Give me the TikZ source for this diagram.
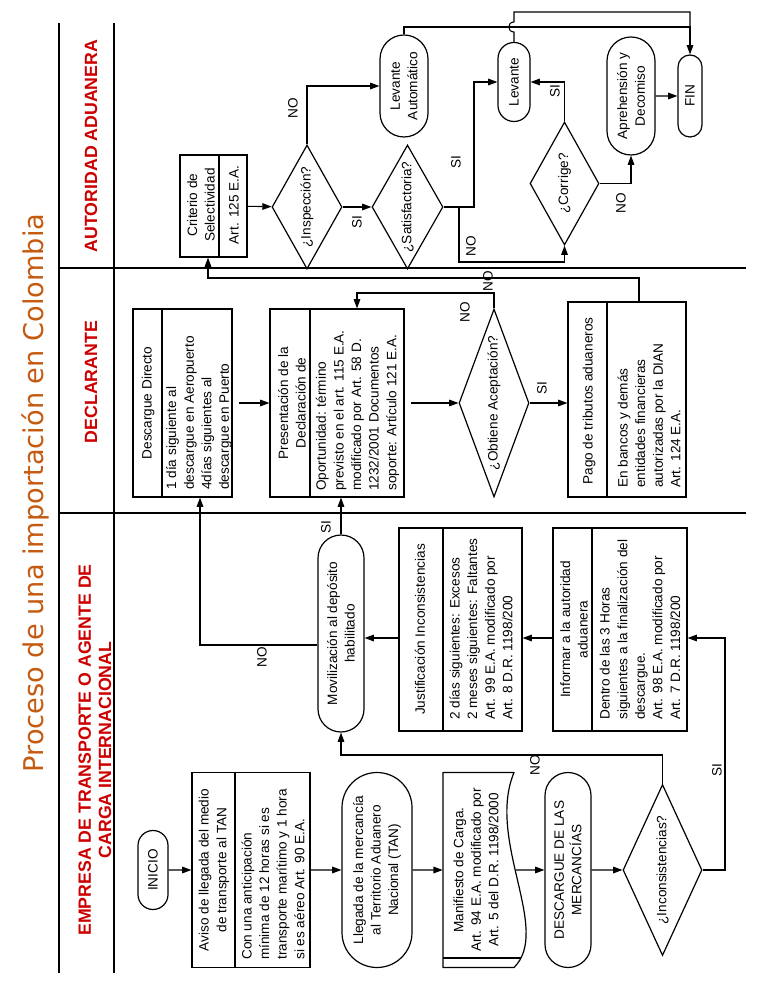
\documentclass[tikz,border=0pt]{standalone}
\usepackage{fontspec}
\setmainfont{Liberation Sans}
\newfontfamily\ttlfont{DejaVu Sans}
\usetikzlibrary{shapes.geometric,shapes.misc,arrows.meta}
\definecolor{ttlcol}{RGB}{197,90,17}
\definecolor{lanered}{RGB}{204,0,0}
\newcommand\dgfont{\fontsize{10.2}{13.2}\selectfont}
\tikzset{
  rot/.style={rotate=90},
  dims/.style 2 args={minimum height={(#1)*0.75pt}, minimum width={(#2)*0.75pt}},
  shp/.style={draw, line width=0.9pt},
  boxshape/.style={shp, rectangle, inner sep=0pt, rot},
  term/.style={shp, rounded rectangle, inner sep=0pt, align=center, font=\dgfont, rot},
  dec/.style={shp, diamond, inner sep=0pt, align=center, font=\dgfont, rot},
  hdr/.style={align=center, font=\dgfont, inner sep=0pt, rot},
  bodytxt/.style={align=left, font=\dgfont, inner sep=0pt, anchor=west, rot},
  lbl/.style={font=\dgfont, inner sep=0pt, rot},
  arr/.style={line width=0.8pt, -{Triangle[length=7pt,width=5pt]}},
  conn/.style={line width=0.8pt},
  lanehead/.style={font=\bfseries\fontsize{13.3}{15.2}\selectfont, text=lanered, align=center, inner sep=0pt, rot},
}
\begin{document}
\begin{tikzpicture}[x=0.75pt, y=-0.75pt]
\useasboundingbox (0,0) rectangle (768,994);

% title and lanes
\node[rot, font=\ttlfont\fontsize{20.4}{24}\selectfont, text=ttlcol, inner sep=0pt] (title) at (35,493) {Proceso de una importación en Colombia};
\draw[line width=1.1pt] (59,23) -- (59,973);
\draw[line width=1.1pt] (114,23) -- (114,973);
\draw[line width=2.2pt] (59,268) -- (746,268);
\draw[line width=2.2pt] (59,513) -- (746,513);
\node[lanehead] (lane1) at (91,146) {AUTORIDAD ADUANERA};
\node[lanehead] (lane2) at (91,382) {DECLARANTE};
\node[lanehead] (lane3) at (95,750) {EMPRESA DE TRANSPORTE O AGENTE DE\\CARGA INTERNACIONAL};

% ---------- EMPRESA lane ----------
\node[term, dims={30}{79}] (inicio) at (153,870) {INICIO};
\node[boxshape, dims={118}{195}] (aviso) at (251,870) {};
\draw[shp] (235,772.5) -- (235,967.5);
\node[hdr] (avisoh) at (214,870) {Aviso de llegada del medio\\de transporte al TAN};
\node[bodytxt] (avisob) at (273,960) {Con una anticipación\\mínima de 12 horas si es\\transporte marítimo y 1 hora\\si es aéreo Art. 90 E.A.};
\node[term, dims={70}{195}] (llegada) at (377,870) {Llegada de la mercancía\\al Territorio Aduanero\\Nacional (TAN)};
\node[dims={71}{195}, inner sep=0pt, rot] (manif) at (478.5,870) {};
\draw[shp, line join=round] (514,772.5) -- (443,772.5) -- (443,967.5) -- (514,967.5) .. controls (552,930) and (486,840) .. (514,772.5) -- cycle;
\draw[shp] (443,958) -- (521,958);
\node[hdr] (maniftxt) at (476,870) {Manifiesto de Carga.\\Art. 94 E.A. modificado por\\Art. 5 del D.R. 1198/2000};
\coordinate (manifout) at (516,870);
\node[term, dims={46}{195}] (descm) at (568,870) {DESCARGUE DE LAS\\MERCANCÍAS};
\node[dec, dims={79}{171}, shape aspect=2.16] (incons) at (662.5,870) {¿Inconsistencias?};

\node[boxshape, dims={134}{203}] (informar) at (620,629.5) {};
\draw[shp] (592,528) -- (592,731);
\node[hdr] (informarh) at (574,629.5) {Informar a la autoridad\\aduanera};
\node[bodytxt] (informarb) at (640,720) {Dentro de las 3 Horas\\siguientes a la finalización del\\descargue.\\Art. 98 E.A. modificado por\\Art. 7 D.R. 1198/200};

\node[boxshape, dims={123}{203}] (justif) at (460.5,629.5) {};
\draw[shp] (443,528) -- (443,731);
\node[hdr] (justifh) at (420,629.5) {Justificación Inconsistencias};
\node[bodytxt] (justifb) at (481,720) {2 días siguientes: Excesos\\2 meses siguientes: Faltantes\\Art. 99 E.A. modificado por\\Art. 8 D.R. 1198/200};

\node[term, dims={46}{197}] (moviliz) at (341,633.5) {Movilización al depósito\\habilitado};

% ---------- DECLARANTE lane ----------
\node[boxshape, dims={99}{188}] (desc) at (182.5,403) {};
\draw[shp] (162,309) -- (162,497);
\node[hdr] (desch) at (148,403) {Descargue Directo};
\node[bodytxt] (descb) at (199,490) {1 día siguiente al\\descargue en Aeropuerto\\4días siguientes al\\descargue en Puerto};

\node[boxshape, dims={134}{188}] (present) at (337,403) {};
\draw[shp] (310,309) -- (310,497);
\node[hdr] (presenth) at (292,403) {Presentación de la\\Declaración de};
\node[bodytxt] (presentb) at (357.5,491) {Oportunidad: término\\previsto en el art. 115 E.A.\\modificado por Art. 58 D.\\1232/2001 Documentos\\soporte: Artículo 121 E.A.};

\node[dec, dims={70}{188}, shape aspect=2.69] (obtiene) at (494,403) {¿Obtiene Aceptación?};

\node[boxshape, dims={118}{195}] (pago) at (627,399.5) {};
\draw[shp] (607,302) -- (607,497);
\node[hdr] (pagoh) at (589,401) {Pago de tributos aduaneros};
\node[bodytxt] (pagob) at (649,488) {En bancos y demás\\entidades financieras\\autorizadas por la DIAN\\Art. 124 E.A.};

% ---------- AUTORIDAD lane ----------
\node[boxshape, dims={67}{102}] (crit) at (213.5,206) {};
\draw[shp] (219,155) -- (219,257);
\node[hdr] (crith) at (201,205) {Criterio de\\Selectividad};
\node[hdr] (critb) at (234,205) {Art. 125 E.A.};
\node[dec, dims={70}{124}, shape aspect=1.77] (insp) at (307,207) {¿Inspección?};
\node[dec, dims={71}{124}, shape aspect=1.75] (satis) at (407.5,207) {¿Satisfactoria?};
\node[term, dims={48}{102}] (levauto) at (404,86) {Levante\\Automático};
\node[term, dims={32}{79}] (levante) at (514,82) {Levante};
\node[dec, dims={69}{123}, shape aspect=1.78] (corrige) at (564.5,183.5) {¿Corrige?};
\node[term, dims={48}{118}] (aprehen) at (631,96) {Aprehensión y\\Decomiso};
\node[term, dims={24}{82}] (fin) at (690,96) {FIN};

% ---------- bend coordinates ----------
\coordinate (si1) at (725,638);
\coordinate (nob) at (200,645);
\coordinate (no1) at (341,755);
\coordinate (nob2) at (357,293);
\coordinate (pc) at (639,278);
\coordinate (pc2) at (208,278);
\coordinate (ss) at (474,82);
\coordinate (sn) at (459,262);
\coordinate (t1) at (690,27);
\coordinate (t2) at (690,12);

% ---------- connectors ----------
\draw[arr] (inicio) -- (aviso);
\draw[arr] (aviso) -- (llegada);
\draw[arr] (llegada) -- (manif);
\draw[arr] (manifout) -- (descm);
\draw[arr] (descm) -- (incons);
\draw[arr] (incons.south) -- (incons.south -| si1) -- (si1) -- (si1 -| informar.south);
\draw[arr] (informar.north |- si1) -- (justif.south |- si1);
\draw[arr] (justif.north |- si1) -- (moviliz.south |- si1);
\draw[arr] (incons.east) -- (incons.east |- no1) -- (no1) -- (moviliz.west);
\draw[arr] (moviliz.north |- nob) -- (nob) -- (nob |- desc.west);
\draw[arr] (moviliz.east) -- (moviliz.east |- present.west);
\draw[arr, shorten <=5pt] (desc) -- (present);
\draw[arr, shorten <=5pt] (present) -- (obtiene);
\draw[arr] (obtiene) -- (pago.north |- obtiene);
\draw[arr] (obtiene.east) -- (obtiene.east |- nob2) -- (nob2) -- (nob2 |- present.east);
\draw[arr] (pc |- pago.east) -- (pc) -- (pc2) -- (pc2 |- crit.west);
\draw[arr] (crit) -- (insp);
\draw[arr] (insp) -- (satis);
\draw[arr] (insp.east) -- (insp.east |- levauto.north) -- (levauto.north);
\draw[arr] (satis.south) -- (ss |- satis.south) -- (ss) -- (levante.north);
\draw[arr] (sn |- satis.south) -- (sn) -- (corrige.west |- sn) -- (corrige.west);
\draw[arr] (corrige.east) -- (corrige.east |- levante.south) -- (levante.south);
\draw[arr] (corrige.south) -- (aprehen.west |- corrige.south) -- (aprehen.west);
\draw[arr] (aprehen) -- (fin);
\draw[arr] (levauto.east) -- (levauto.east |- t1) -- (t1) -- (fin.east);
\draw[conn] (levante.east) -- (514,32) .. controls (507,32) and (507,22) .. (514,22) -- (levante.east |- t2) -- (t2) -- (t1);

% ---------- branch labels ----------
\node[lbl] (l1) at (357,222) {SI};
\node[lbl] (l2) at (293,108) {NO};
\node[lbl] (l3) at (456,162) {SI};
\node[lbl] (l4) at (471,246) {NO};
\node[lbl] (l5) at (555,91) {SI};
\node[lbl] (l6) at (621,203) {NO};
\node[lbl] (l7) at (465,312) {NO};
\node[lbl] (l8) at (488,281) {NO};
\node[lbl] (l9) at (542,388) {SI};
\node[lbl] (l10) at (326,527) {SI};
\node[lbl] (l11) at (262,657) {NO};
\node[lbl] (l12) at (535,765) {NO};
\node[lbl] (l13) at (717,770) {SI};
\end{tikzpicture}
\end{document}
